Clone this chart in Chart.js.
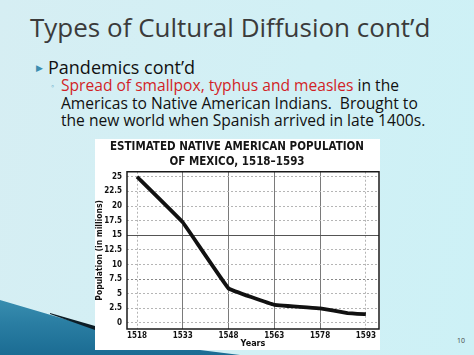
<!DOCTYPE html>
<html>
<head>
<meta charset="utf-8">
<script src="https://cdn.jsdelivr.net/npm/chart.js@4"></script>
<style>
  html, body { margin: 0; padding: 0; }
  body { width: 474px; height: 355px; position: relative; overflow: hidden;
         background: linear-gradient(100deg, #d6eef3 0%, #d1f0f5 60%, #cdf1f6 100%);
         font-family: "Open Sans", sans-serif; }
  #swoosh { position: absolute; left: 0; top: 290px; width: 260px; height: 65px;
            background: linear-gradient(180deg, #3f94b4 0%, #2a7ea3 50%, #1b6c93 100%);
            clip-path: polygon(0 10px, 95px 38px, 200px 60px, 240px 65px, 0 65px); }
  #edge { position: absolute; left: 0; top: 290px; width: 260px; height: 65px; background: #0d1d26;
          clip-path: polygon(50px 23px, 95px 36px, 95px 40px, 50px 24px); }
  .title { position: absolute; left: 30px; top: 9px; font-size: 26px; color: #3b3b3b; white-space: nowrap; }
  .b1 { position: absolute; left: 48px; top: 55px; font-size: 18px; color: #111; white-space: nowrap; }
  .b1 .arr { position: absolute; left: -12px; top: 6px; font-size: 9px; color: #3c8db0; }
  .b2 { position: absolute; left: 61px; top: 77px; font-size: 15.6px; line-height: 17.5px; color: #111; white-space: nowrap; }
  .b2 .dot { position: absolute; left: -10px; top: 0; font-size: 9px; color: #5aa8c8; }
  .red { color: #d21f27; }
  .num { position: absolute; left: 457px; top: 336px; font-size: 7px; color: #444; }
  #box { position: absolute; left: 95px; top: 139px; width: 285px; height: 211px; background: #fff; }
</style>
</head>
<body>
<div id="swoosh"></div>
<div id="edge"></div>
<div class="title">Types of Cultural Diffusion cont’d</div>
<div class="b1"><span class="arr">&#9654;</span>Pandemics cont’d</div>
<div class="b2"><span class="dot">&#9702;</span><span class="red">Spread of smallpox, typhus and measles</span> in the<br>Americas to Native American Indians.&nbsp; Brought to<br>the new world when Spanish arrived in late 1400s.</div>
<div class="num">10</div>
<div id="box"><canvas id="popChart"></canvas></div>
<script>
const years = [1518, 1533, 1548, 1563, 1578, 1587, 1593];
const population = [25, 17.2, 5.9, 3.1, 2.5, 1.7, 1.5];
const yearTicks = [1518, 1533, 1548, 1563, 1578, 1593];
const popTicks = [0, 2.5, 5, 7.5, 10, 12.5, 15, 17.5, 20, 22.5, 25];

const solidX = [1533, 1548, 1563, 1578];
const solidY = [15];

const tickFont = { family: "DejaVu Sans Condensed", size: 8, weight: 'bold' };

const frame = {
    id: 'frame',
    beforeDatasetsDraw(chart) {
        const a = chart.chartArea;
        const c = chart.ctx;
        c.save();
        c.strokeStyle = '#1a1a1a';
        c.lineWidth = 1.5;
        c.strokeRect(a.left, a.top, a.right - a.left, a.bottom - a.top);
        c.restore();
    }
};

const ctx = document.getElementById('popChart').getContext('2d');
const popChart = new Chart(ctx, {
    type: 'line',
    data: {
        datasets: [{
            data: years.map((y, i) => ({ x: y, y: population[i] })),
            borderColor: '#111',
            borderWidth: 3.8,
            pointRadius: 0,
            tension: 0.05,
            borderJoinStyle: 'round',
            fill: false
        }]
    },
    options: {
        responsive: true,
        maintainAspectRatio: false,
        animation: false,
        layout: { padding: { right: 1, left: 0, top: 0, bottom: 0 } },
        plugins: {
            legend: { display: false },
            tooltip: { enabled: false },
            title: {
                display: true,
                text: ['ESTIMATED NATIVE AMERICAN POPULATION', 'OF MEXICO, 1518\u20131593'],
                color: '#151515',
                font: { family: "DejaVu Sans Condensed", size: 11.5, weight: 'bold', lineHeight: 1.25 },
                padding: { top: 1, bottom: 3 }
            }
        },
        scales: {
            x: {
                type: 'linear',
                min: 1514.7,
                max: 1597.3,
                afterBuildTicks: s => { s.ticks = yearTicks.map(v => ({ value: v })); },
                afterFit: s => { s.height = 21; },
                ticks: { color: '#111', font: tickFont, padding: 2, callback: v => String(v) },
                grid: {
                    drawTicks: false,
                    color: c => solidX.includes(c.tick && c.tick.value) ? '#7a7a7a' : '#b5b5b5',
                    lineWidth: 1
                },
                border: { display: false, dash: c => solidX.includes(c.tick && c.tick.value) ? [] : [2, 2] },
                title: { display: true, text: 'Years', color: '#111', padding: { top: 0, bottom: 1 },
                         font: { family: "DejaVu Sans Condensed", size: 9, weight: 'bold' } }
            },
            y: {
                min: -1.03,
                max: 25.86,
                afterBuildTicks: s => { s.ticks = popTicks.map(v => ({ value: v })); },
                afterFit: s => { s.width = 32; },
                ticks: { color: '#111', font: tickFont, padding: 5, callback: v => String(v) },
                grid: {
                    drawTicks: false,
                    color: c => solidY.includes(c.tick && c.tick.value) ? '#555' : (c.tick && c.tick.value === 7.5 ? '#888' : '#b5b5b5'),
                    lineWidth: 1
                },
                border: { display: false, dash: c => solidY.includes(c.tick && c.tick.value) ? [] : [2, 2] },
                title: { display: true, text: 'Population (in millions)', color: '#111', padding: 0,
                         font: { family: "DejaVu Sans Condensed", size: 8.5, weight: 'bold' } }
            }
        }
    },
    plugins: [frame]
});
</script>
</body>
</html>
